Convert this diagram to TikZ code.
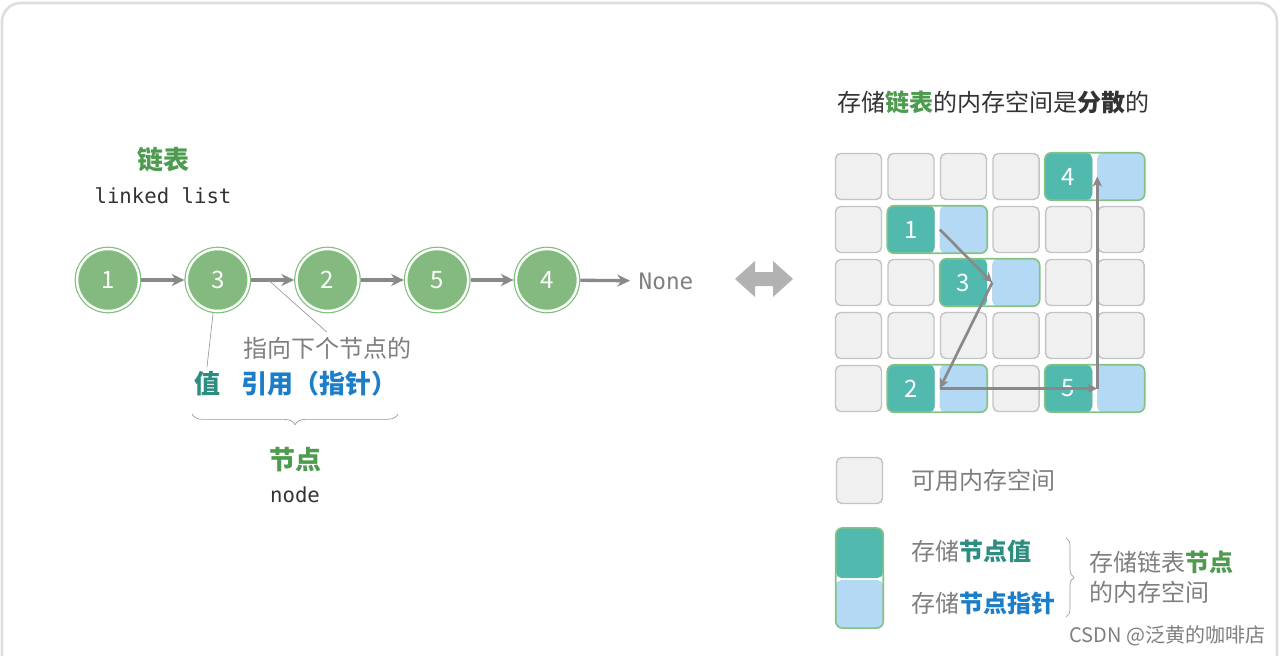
\documentclass[tikz,border=0pt]{standalone}
\usepackage{fontspec}
\setmainfont{Noto Sans CJK SC}
\newfontfamily\codefont{DejaVu Sans Mono}
\usepackage{tikz}
\usetikzlibrary{arrows.meta,calc,decorations.pathreplacing}
\definecolor{nodegreen}{HTML}{84BA80}
\definecolor{ringgreen}{HTML}{7FBF7B}
\definecolor{valteal}{HTML}{52B9AF}
\definecolor{ptrblue}{HTML}{B3D9F4}
\definecolor{cellgray}{HTML}{F0F0F0}
\definecolor{cellline}{HTML}{C4C4C4}
\definecolor{framegreen}{HTML}{86C184}
\definecolor{titlegreen}{HTML}{4E9B4F}
\definecolor{valtext}{HTML}{2E8D81}
\definecolor{reftext}{HTML}{1C7EC9}
\definecolor{softgray}{HTML}{7F7F7F}
\definecolor{inkgray}{HTML}{333333}
\definecolor{arrowgray}{HTML}{898989}

\begin{document}
\begin{tikzpicture}[x=0.75pt,y=-0.75pt,node distance=82.3pt]
\tikzstyle{listnode} = [circle, fill=nodegreen, draw=ringgreen, line width=0.9pt, double=white, double distance=1.8pt, minimum size=46.4pt, inner sep=0pt, outer sep=1.8pt, text=white, font=\fontsize{18}{18}\selectfont]
\tikzstyle{link} = [-{Stealth[length=9.5pt,width=9pt,inset=3pt]}, draw=arrowgray, line width=2.5pt]
\tikzstyle{cell} = [rectangle, rounded corners=4pt, fill=cellgray, draw=cellline, line width=1.1pt, minimum size=34.5pt, inner sep=0pt]
\tikzstyle{valcell} = [cell, fill=valteal, draw=valteal, text=white, font=\fontsize{18}{18}\selectfont]
\tikzstyle{ptrcell} = [cell, fill=ptrblue, draw=ptrblue]
\tikzstyle{nodeframe} = [draw=framegreen, line width=1.2pt, rounded corners=5pt]
\tikzstyle{jump} = [-{Stealth[length=7.5pt,width=7pt,inset=2pt]}, draw=arrowgray, line width=2pt]
\tikzstyle{note} = [text=softgray, font=\fontsize{18}{18}\selectfont]
\tikzstyle{hint} = [draw=black!40, line width=0.5pt]
\tikzstyle{code} = [text=inkgray, font=\codefont\fontsize{15.5}{15.5}\selectfont]
\tikzstyle{heading} = [text=titlegreen, font=\bfseries\fontsize{19.5}{19.5}\selectfont]
\fill[white] (0,0) rectangle (1280,656);
\useasboundingbox (0,0) rectangle (1280,656);
\draw[rounded corners=14pt, draw=black!13, line width=2pt, fill=white] (2,3) rectangle (1277,720);

\node[heading] (title) at (163,160) {链表};
\node[code] (titleen) at (163,196) {linked list};
\node[listnode] (l1) at (108,280) {1};
\node[listnode][right of=l1](l3){3};
\node[listnode][right of=l3](l2){2};
\node[listnode][right of=l2](l5){5};
\node[listnode][right of=l5](l4){4};
\node[code, text=softgray, font=\codefont\fontsize{17}{17}\selectfont] (none) at (666,281) {None};
\path (l1) edge[link] (l3)
      (l3) edge[link] (l2)
      (l2) edge[link] (l5)
      (l5) edge[link] (l4)
      (l4) edge[link, shorten >=3pt] (none);

\node[note] (ptrnote) at (327,348) {指向下个节点的};
\node[heading, text=valtext] (val) at (207,384) {值};
\node[heading, text=reftext] (ref) at (319,384) {引用（指针）};
\coordinate (ptrfrom) at ($(l3.east)!0.4!(l2.west)$);
\draw[hint] (l3.-98) -- (val.north);
\draw[hint] (ptrfrom) -- (ptrnote.north);
\draw[hint, decorate, decoration={brace, mirror, amplitude=8pt}] (192,414) -- (398,414);
\node[heading] (nodecn) at (295,460) {节点};
\node[code] (nodeen) at (295,495) {node};

\fill[black!30] (735,279) -- (755,261) -- (755,272) -- (773,272) -- (773,261) -- (793,279) -- (773,297) -- (773,286) -- (755,286) -- (755,297) -- cycle;

\node[text=inkgray, font=\fontsize{18}{18}\selectfont] (gridtitle) at (993,102) {存储\textcolor{titlegreen}{\bfseries 链表}的内存空间是{\bfseries 分散}的};
\foreach \i in {0,...,5}
  \foreach \j in {0,...,4}
    \node[cell] (c\i\j) at ({858.5+52.5*\i},{176.5+53*\j}) {};
\node[valcell] (v4) at (c40) {4};
\node[ptrcell] (p4) at (c50) {};
\node[valcell] (v1) at (c11) {1};
\node[ptrcell] (p1) at (c21) {};
\node[valcell] (v3) at (c22) {3};
\node[ptrcell] (p3) at (c32) {};
\node[valcell] (v2) at (c14) {2};
\node[ptrcell] (p2) at (c24) {};
\node[valcell] (v5) at (c44) {5};
\node[ptrcell] (p5) at (c54) {};
\foreach \k in {1,...,5}
  \draw[nodeframe] (v\k.north west) rectangle (p\k.south east);
\draw[jump] (p1.west) -- (p3.west);
\draw[jump] (p3.west) -- (p2.west);
\draw[jump] (p2.west) -- (p5.west);
\draw[jump] (p5.west) -- (p4.west);

\node[cell] (freecell) at (859.5,480.5) {};
\node[valcell, minimum height=36.5pt] (legval) at (859.5,553) {};
\node[ptrcell, minimum height=35pt] (legptr) at (859.5,604) {};
\draw[nodeframe] (legval.north west) rectangle (legptr.south east);
\node[note, anchor=west] (freetext) at (907,480) {可用内存空间};
\node[note, anchor=west] (valnote) at (907,551) {存储\textcolor{valtext}{\bfseries 节点值}};
\node[note, anchor=west] (ptrlegend) at (907,603) {存储\textcolor{reftext}{\bfseries 节点指针}};
\draw[hint, decorate, decoration={brace, amplitude=6pt}] (1066,538) -- (1066,617);
\node[note, anchor=west, align=left, font=\fontsize{18}{22.5}\selectfont] (spacenote) at (1085,577) {存储链表\textcolor{titlegreen}{\bfseries 节点}\\的内存空间};

\node[anchor=east, text=softgray, font=\fontsize{15}{15}\selectfont] (mark) at (1270,636) {CSDN @泛黄的咖啡店};
\end{tikzpicture}
\end{document}
